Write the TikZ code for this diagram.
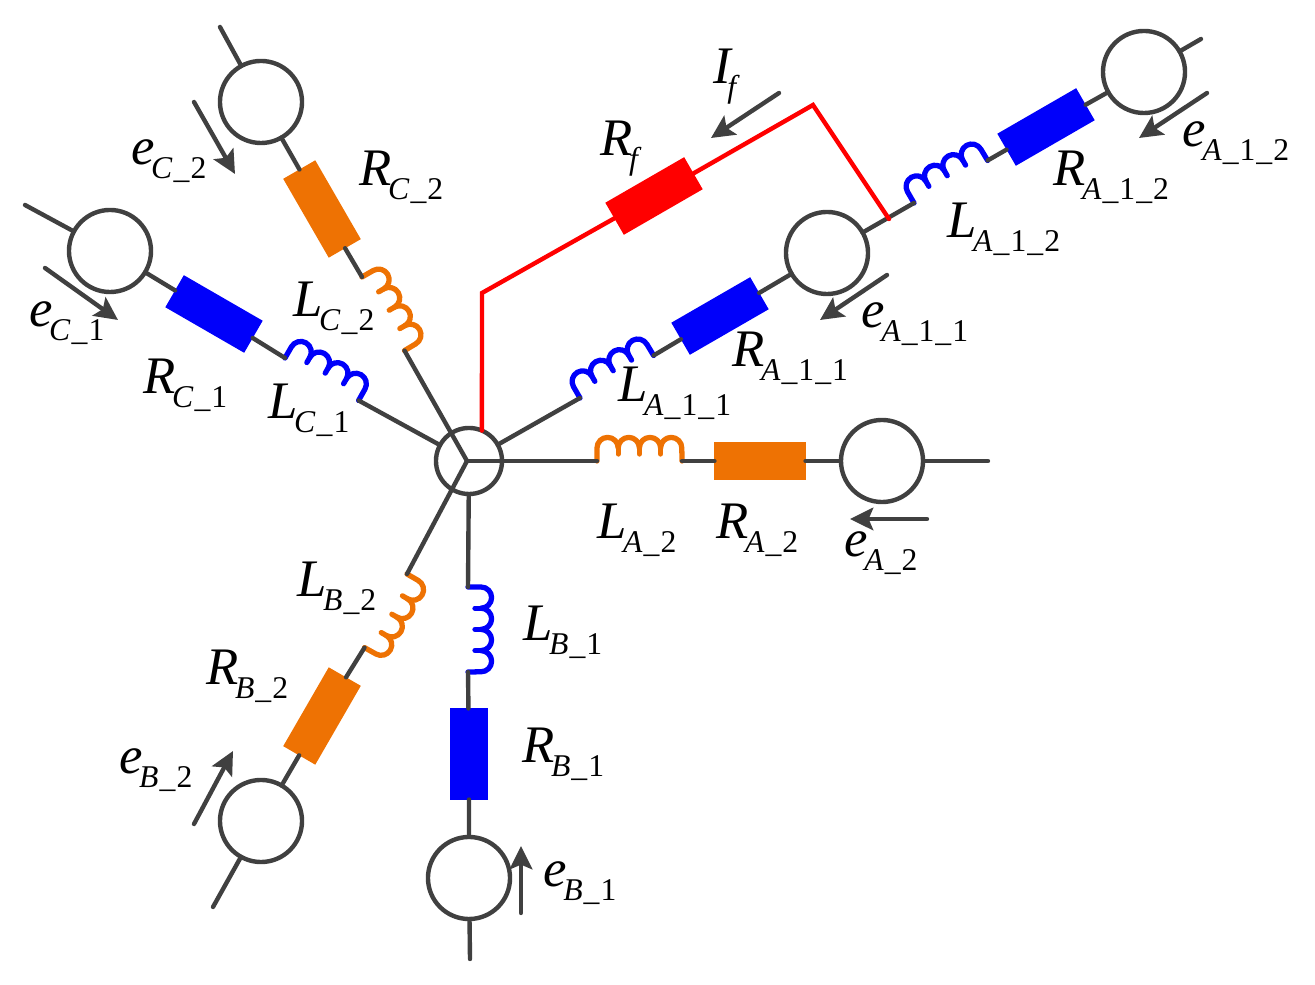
\documentclass[tikz,border=0pt]{standalone}
\usepackage{fontspec}
\setmainfont{Liberation Serif}
\usetikzlibrary{arrows.meta}
\definecolor{wirec}{HTML}{404040}
\definecolor{orangec}{HTML}{EE7203}
\definecolor{bluec}{HTML}{0000FA}
\newcommand{\us}{\kern.3pt\_\kern.3pt}
\newcommand{\sym}[2]{{\fontsize{15}{15}\selectfont\itshape #1}\kern-.9pt\raisebox{-3.8pt}{\fontsize{9}{9}\selectfont #2}}
\tikzset{
  wire/.style={line width=1.25pt,draw=wirec},
  redwire/.style={line width=1.25pt,draw=red,line join=miter},
  gen/.style={circle,draw=wirec,line width=1.25pt,minimum size=0.82cm,inner sep=0,outer sep=0},
  res/.style={rectangle,minimum width=0.91cm,minimum height=0.37cm,inner sep=0,outer sep=0},
  volt/.style={->,line width=1.25pt,draw=wirec},
  lbl/.style={anchor=base west,inner sep=0,outer sep=0},
  coil/.pic={
    \coordinate (-in) at (0,0);
    \coordinate (-out) at (85,0);
    \draw[line width=1.5pt,line cap=round] (0,0) -- (0,13) arc (180:0:10.6)
      arc (180:0:10.6) arc (180:0:10.6) arc (180:0:10.6) -- (85,0);
    \draw[line width=1.5pt,line cap=round] (21.2,13) -- (21.2,7) (42.4,13) -- (42.4,7) (63.6,13) -- (63.6,7);
  }
}
\begin{document}
\begin{tikzpicture}[line cap=round,line join=round,>={Stealth[length=6.6pt,width=6.4pt,inset=1.3pt]},x=0.01cm,y=0.01cm]
\useasboundingbox (0,0) rectangle (1315,985);
% neutral point
\node[circle,draw=wirec,line width=1.25pt,minimum size=0.66cm,inner sep=0,outer sep=0] (n) at (469,524) {};
\coordinate (core) at (467,524);
% sources
\node[gen] (gA2) at (882,524) {};
\node[gen] (gA11) at (827,732) {};
\node[gen] (gA12) at (1144,913) {};
\node[gen] (gB1) at (469,107) {};
\node[gen] (gB2) at (261,164) {};
\node[gen] (gC1) at (110,734) {};
\node[gen] (gC2) at (261,883) {};
\coordinate (fA2) at (988,524);
\coordinate (fA12) at (1201,946);
\coordinate (fB1) at (470,26);
\coordinate (fB2) at (213,78);
\coordinate (fC1) at (25,780);
\coordinate (fC2) at (220,958);
% resistors
\node[res,fill=orangec] (rA2) at (760,524) {};
\node[res,fill=bluec,rotate=30] (rA11) at (720,669) {};
\node[res,fill=bluec,rotate=30] (rA12) at (1046,858) {};
\node[res,fill=bluec,rotate=90] (rB1) at (469,231) {};
\node[res,fill=orangec,rotate=60] (rB2) at (322,269) {};
\node[res,fill=bluec,rotate=-30] (rC1) at (214,671) {};
\node[res,fill=orangec,rotate=-60] (rC2) at (322,776) {};
\node[res,fill=red,rotate=30] (rf) at (654,789) {};
% coils
\pic (cA2) [orangec] at (597,524) {coil};
\pic (cA11) [bluec,rotate=30] at (580,587) {coil};
\pic (cA12) [bluec,rotate=30] at (914,782) {coil};
\pic (cB1) [bluec,rotate=-90] at (468,398) {coil};
\pic (cB2) [orangec,rotate=-120] at (407,411) {coil};
\pic (cC1) [bluec,rotate=-30] at (285,627) {coil};
\pic (cC2) [orangec,rotate=-60] at (362,708) {coil};
% wires
\draw[wire] (core) -- (cA2-in) (cA2-out) -- (rA2) (rA2) -- (gA2) (gA2) -- (fA2);
\draw[wire] (n) -- (cA11-in) (cA11-out) -- (rA11) (rA11) -- (gA11) (gA11) -- (cA12-in) (cA12-out) -- (rA12) (rA12) -- (gA12) (gA12) -- (fA12);
\draw[wire] (n) -- (cB1-in) (cB1-out) -- (rB1) (rB1) -- (gB1) (gB1) -- (fB1);
\draw[wire] (core) -- (cB2-in) (cB2-out) -- (rB2) (rB2) -- (gB2) (gB2) -- (fB2);
\draw[wire] (n) -- (cC1-out) (cC1-in) -- (rC1) (rC1) -- (gC1) (gC1) -- (fC1);
\draw[wire] (core) -- (cC2-out) (cC2-in) -- (rC2) (rC2) -- (gC2) (gC2) -- (fC2);
% field branch
\coordinate (jf) at (889,766);
\coordinate (kf1) at (813,880);
\coordinate (kf2) at (482,692);
\draw[redwire] (jf) -- (kf1) -- (rf);
\draw[redwire] (rf) -- (kf2) -- (n.67);
% arrows
\coordinate (aIf1) at (779,892);
\coordinate (aIf2) at (711,847);
\coordinate (aA121) at (1207,892);
\coordinate (aA122) at (1139,847);
\coordinate (aA111) at (887,710);
\coordinate (aA112) at (820,665);
\coordinate (aA21) at (927,466);
\coordinate (aA22) at (850,466);
\coordinate (aB11) at (521,72);
\coordinate (aB12) at (521,139);
\coordinate (aB21) at (194,161);
\coordinate (aB22) at (233,234);
\coordinate (aC11) at (45,717);
\coordinate (aC12) at (118,665);
\coordinate (aC21) at (194,883);
\coordinate (aC22) at (235,811);
\draw[volt] (aIf1) -- (aIf2);
\draw[volt] (aA121) -- (aA122);
\draw[volt] (aA111) -- (aA112);
\draw[volt] (aA21) -- (aA22);
\draw[volt] (aB11) -- (aB12);
\draw[volt] (aB21) -- (aB22);
\draw[volt] (aC11) -- (aC12);
\draw[volt] (aC21) -- (aC22);
% labels
\node[lbl] (tIf) at (713,901) {\sym{I}{\textit{f}}};
\node[lbl] (tRf) at (600,829) {\sym{R}{\textit{f}}};
\node[lbl] (tRA12) at (1053,799) {\sym{R}{\textit{A}\us 1\us 2}};
\node[lbl] (teA12) at (1182,838) {\sym{e}{\textit{A}\us 1\us 2}};
\node[lbl] (tLA12) at (947,747) {\sym{L}{\textit{A}\us 1\us 2}};
\node[lbl] (teA11) at (861,657) {\sym{e}{\textit{A}\us 1\us 1}};
\node[lbl] (tRA11) at (732,618) {\sym{R}{\textit{A}\us 1\us 1}};
\node[lbl] (tLA11) at (618,583) {\sym{L}{\textit{A}\us 1\us 1}};
\node[lbl] (tLA2) at (597,446) {\sym{L}{\textit{A}\us 2}};
\node[lbl] (tRA2) at (716,446) {\sym{R}{\textit{A}\us 2}};
\node[lbl] (teA2) at (844,428) {\sym{e}{\textit{A}\us 2}};
\node[lbl] (tLB2) at (297,388) {\sym{L}{\textit{B}\us 2}};
\node[lbl] (tLB1) at (523,344) {\sym{L}{\textit{B}\us 1}};
\node[lbl] (tRB2) at (206,300) {\sym{R}{\textit{B}\us 2}};
\node[lbl] (tRB1) at (522,222) {\sym{R}{\textit{B}\us 1}};
\node[lbl] (teB2) at (119,211) {\sym{e}{\textit{B}\us 2}};
\node[lbl] (teB1) at (543,98) {\sym{e}{\textit{B}\us 1}};
\node[lbl] (teC2) at (131,820) {\sym{e}{\textit{C}\us 2}};
\node[lbl] (tRC2) at (359,799) {\sym{R}{\textit{C}\us 2}};
\node[lbl] (tLC2) at (293,668) {\sym{L}{\textit{C}\us 2}};
\node[lbl] (tLC1) at (268,566) {\sym{L}{\textit{C}\us 1}};
\node[lbl] (tRC1) at (143,591) {\sym{R}{\textit{C}\us 1}};
\node[lbl] (teC1) at (29,658) {\sym{e}{\textit{C}\us 1}};
\end{tikzpicture}
\end{document}
